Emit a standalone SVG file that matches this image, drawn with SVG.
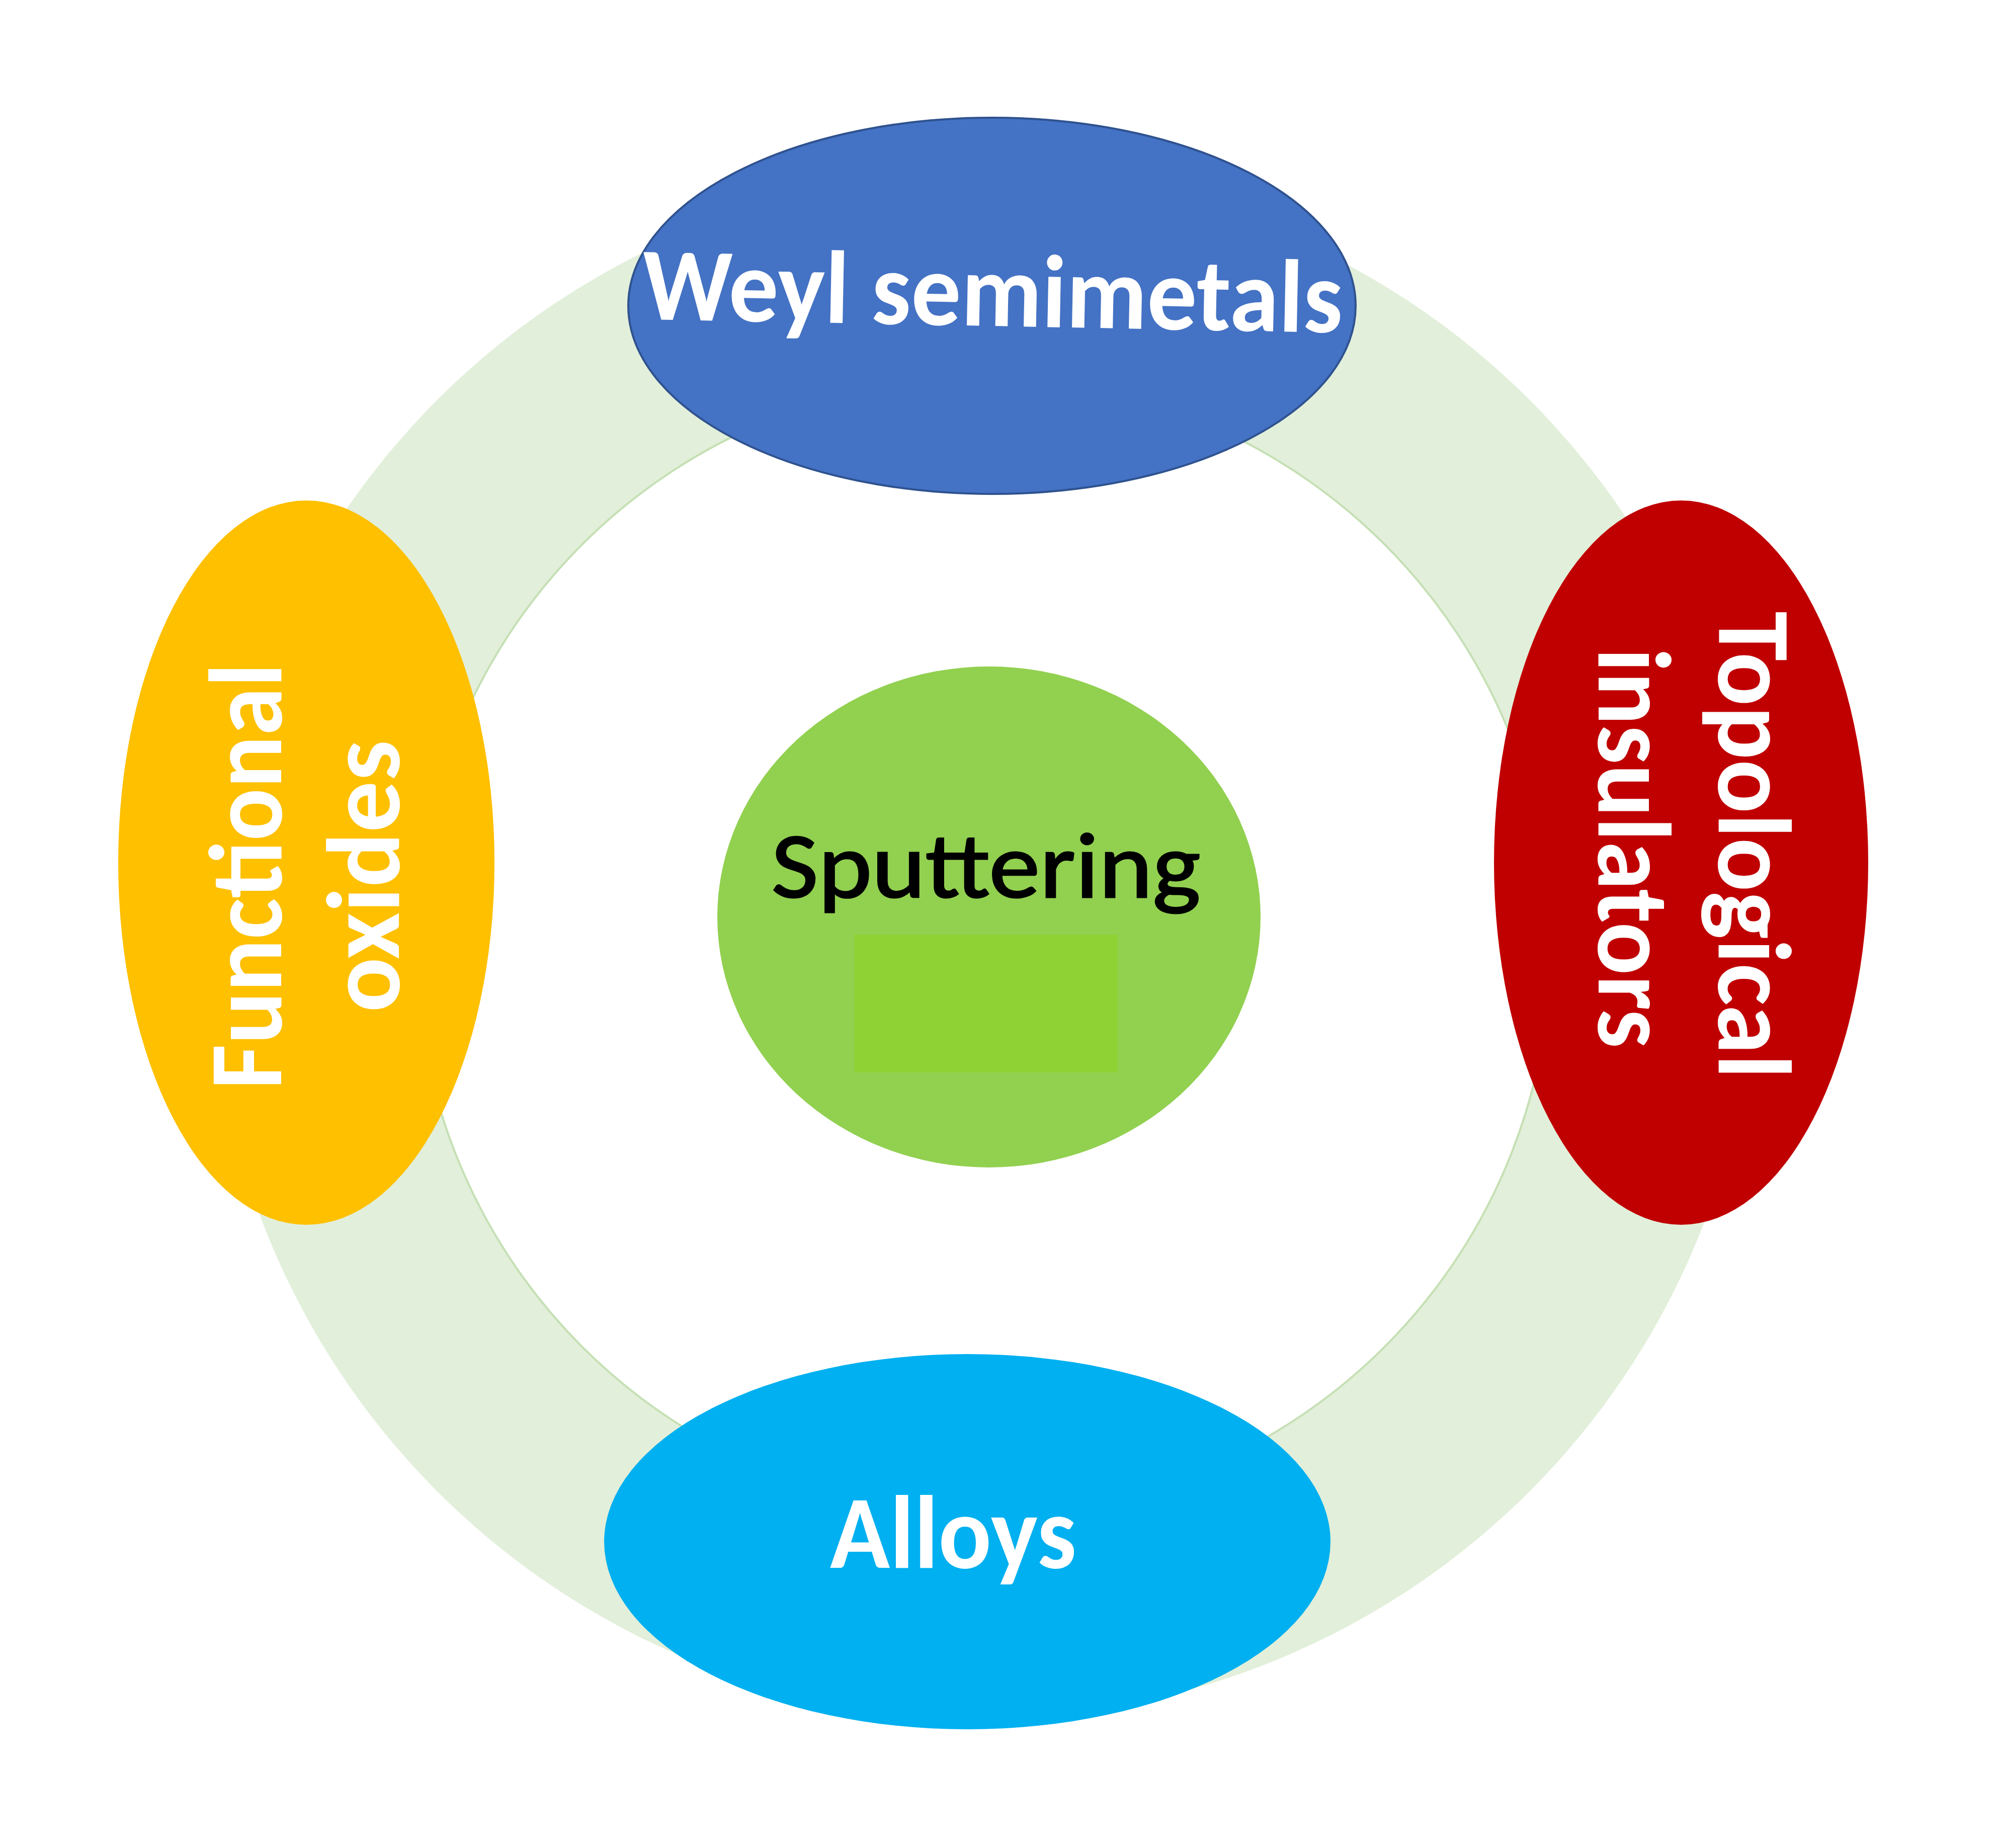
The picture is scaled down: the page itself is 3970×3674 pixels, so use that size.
<svg xmlns="http://www.w3.org/2000/svg" width="3970" height="3674" viewBox="0 0 3970 3674">
<style>
.lbl{font-family:Carlito,Lato,"Noto Sans","Liberation Sans",sans-serif;font-weight:bold;fill:#FFFFFF;text-anchor:middle;font-size:206px}
.center{font-family:Carlito,Lato,"Noto Sans","Liberation Sans",sans-serif;font-weight:normal;fill:#000000;stroke:#000000;stroke-width:3;text-anchor:middle;font-size:186px}
</style>
<rect x="0" y="0" width="3970" height="3674" fill="#FFFFFF"/>
<g id="connectors">
  <path id="ring" fill="#E2EFDA" fill-rule="evenodd" d="M 420 1880 A 1535 1535 0 1 0 3490 1880 A 1535 1535 0 1 0 420 1880 Z M 827 1880 A 1128 1128 0 1 1 3083 1880 A 1128 1128 0 1 1 827 1880 Z"/>
  <circle cx="1955" cy="1880" r="1128" fill="none" stroke="#C5E0B4" stroke-width="4"/>
</g>
<g id="node-sputtering">
  <ellipse cx="1966" cy="1823" rx="540" ry="498" fill="#92D050"/>
  <rect x="1698" y="1858" width="524" height="274" fill="#8ED234"/>
  <text class="center" x="1960" y="1784" textLength="853" lengthAdjust="spacingAndGlyphs">Sputtering</text>
</g>
<g id="node-weyl">
  <ellipse cx="1972" cy="608" rx="723" ry="374" fill="#4472C4" stroke="#2F528F" stroke-width="4"/>
  <text class="lbl" x="1972" y="648" transform="rotate(1.1 1972 648)" textLength="1393" lengthAdjust="spacingAndGlyphs">Weyl semimetals</text>
</g>
<g id="node-functional">
  <ellipse cx="609" cy="1715" rx="374" ry="720" fill="#FFC000"/>
  <g transform="translate(559 1742) rotate(-90)">
    <text class="lbl" x="0" y="0" textLength="847" lengthAdjust="spacingAndGlyphs">Functional</text>
  </g>
  <g transform="translate(793 1742) rotate(-90)">
    <text class="lbl" x="0" y="0" textLength="541" lengthAdjust="spacingAndGlyphs">oxides</text>
  </g>
</g>
<g id="node-topological">
  <ellipse cx="3342" cy="1715" rx="372" ry="720" fill="#C00000"/>
  <g transform="translate(3417 1680) rotate(90)">
    <text class="lbl" x="0" y="0" textLength="929" lengthAdjust="spacingAndGlyphs">Topological</text>
  </g>
  <g transform="translate(3178 1686) rotate(90)">
    <text class="lbl" x="0" y="0" textLength="796" lengthAdjust="spacingAndGlyphs">insulators</text>
  </g>
</g>
<g id="node-alloys">
  <ellipse cx="1923" cy="3065" rx="722" ry="373" fill="#00B0F0"/>
  <text class="lbl" x="1895" y="3117" textLength="490" lengthAdjust="spacingAndGlyphs">Alloys</text>
</g>
</svg>
